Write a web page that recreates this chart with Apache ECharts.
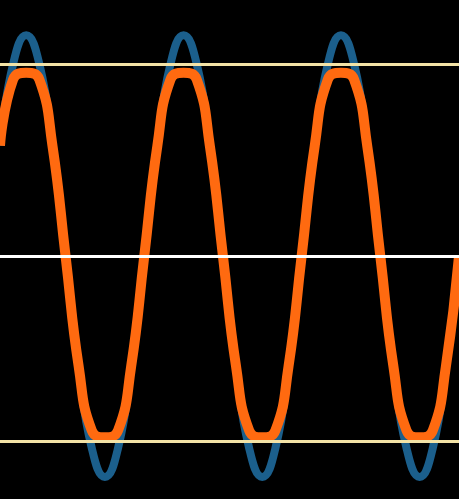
<!DOCTYPE html>
<html><head><meta charset="utf-8">
<script src="https://cdn.jsdelivr.net/npm/echarts@6/dist/echarts.min.js"></script>
<style>html,body{margin:0;background:#000}#c{width:459px;height:499px}</style>
</head><body><div id="c"></div>
<script>
// samples every 1/12 of a period
const samples = Array.from({ length: 36 }, (_, i) => i);
const signalValues = [
  0.5, 0.87, 1, 0.87, 0.5, 0, -0.5, -0.87, -1, -0.87, -0.5, 0,
  0.5, 0.87, 1, 0.87, 0.5, 0, -0.5, -0.87, -1, -0.87, -0.5, 0,
  0.5, 0.87, 1, 0.87, 0.5, 0, -0.5, -0.87, -1, -0.87, -0.5, 0
];
const clippedValues = [
  0.5, 0.8, 0.83, 0.8, 0.5, 0, -0.5, -0.79, -0.82, -0.79, -0.5, 0,
  0.5, 0.8, 0.83, 0.8, 0.5, 0, -0.5, -0.79, -0.82, -0.79, -0.5, 0,
  0.5, 0.8, 0.83, 0.8, 0.5, 0, -0.5, -0.79, -0.82, -0.79, -0.5, 0
];
const levelLines = [0.87, 0, -0.84];

const chart = echarts.init(document.getElementById('c'));
chart.setOption({
  backgroundColor: '#000',
  animation: false,
  grid: { left: 0, right: 0, top: 0, bottom: 0 },
  xAxis: { type: 'category', data: samples, boundaryGap: false, show: false },
  yAxis: { type: 'value', min: -1.1, max: 1.16, show: false },
  series: [
    {
      name: 'signal', type: 'line', smooth: 0.5, symbol: 'none',
      data: signalValues,
      lineStyle: { color: '#1b5f8c', width: 8 },
      markLine: {
        symbol: 'none', silent: true, label: { show: false },
        data: levelLines.map(v => ({
          yAxis: v,
          lineStyle: { color: v === 0 ? '#ffffff' : '#f3e3a6', width: 3, type: 'solid' }
        }))
      }
    },
    {
      name: 'clipped', type: 'line', smooth: 0.5, symbol: 'none',
      data: clippedValues,
      lineStyle: { color: '#ff6a10', width: 10 }
    }
  ]
});
</script></body></html>
